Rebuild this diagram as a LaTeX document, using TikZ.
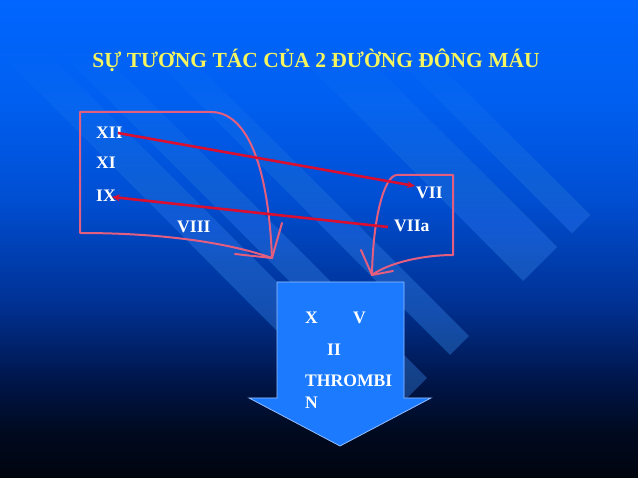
\documentclass[tikz,border=0pt]{standalone}
\usepackage{fontspec}
\setmainfont{Liberation Serif}
\usetikzlibrary{arrows.meta}
\definecolor{pinkline}{RGB}{228,94,128}
\definecolor{redline}{RGB}{218,14,48}
\definecolor{titleyellow}{RGB}{245,245,95}
\definecolor{arrowblue}{RGB}{28,122,255}
\definecolor{arrowedge}{RGB}{150,190,255}
\definecolor{stripecol}{RGB}{80,155,255}
\definecolor{bgzero}{RGB}{0,4,14}
\definecolor{bgone}{RGB}{0,10,32}
\definecolor{bgtwo}{RGB}{0,22,75}
\definecolor{bgthree}{RGB}{0,50,150}
\definecolor{bgfour}{RGB}{0,78,210}
\definecolor{bgfive}{RGB}{0,95,240}
\definecolor{bgsix}{RGB}{0,102,255}
\pgfdeclareverticalshading{slidebg}{100bp}{color(0bp)=(bgzero); color(25bp)=(bgzero); color(30bp)=(bgone); color(35.3bp)=(bgtwo); color(43.6bp)=(bgthree); color(54.1bp)=(bgfour); color(64.5bp)=(bgfive); color(75bp)=(bgsix); color(100bp)=(bgsix)}
\tikzset{
  lab/.style={text=white, font=\fontsize{17.6}{20}\selectfont\bfseries, inner sep=0pt, anchor=west},
  pinkshape/.style={draw=pinkline, line width=2, line join=round, line cap=round},
  redarrow/.style={draw=redline, line width=2.6, -{Stealth[length=8,width=7]}},
  stripeband/.style={fill=stripecol, draw=none},
  bigarrow/.style={fill=arrowblue, draw=arrowedge, line width=0.8}
}
\begin{document}
\begin{tikzpicture}[x=1pt,y=-1pt]
\useasboundingbox (0,0) rectangle (638,478);
\fill[shading=slidebg] (0,0) rectangle (638,478);
% diagonal bands (p = x - y constant along a band, all end near x + y = 805);
% stacked faint layers so that they fade out towards the top
\foreach \i in {0,...,19}{
  \begin{scope}[fill opacity=0.0221]
  \clip (0,55+\i*10) rectangle (638,478);
  \fill[stripeband] (590,215) -- (571.5,233.5) -- (164,-174) -- (182.5,-192.5) -- cycle;
  \fill[stripeband] (557,247) -- (523,281) -- (115,-127) -- (149,-161) -- cycle;
  \fill[stripeband] (469,336) -- (450,355) -- (42,-53) -- (61,-72) -- cycle;
  \fill[stripeband] (427,378) -- (406.5,398.5) -- (-1.5,-9.5) -- (19,-30) -- cycle;
  \fill[stripeband] (327,332) -- (303,357) -- (-100,-46) -- (-76,-71) -- cycle;
  \end{scope}
}
% title
\node[font=\fontsize{21.5}{24}\selectfont\bfseries, text=titleyellow, inner sep=0pt] (title) at (316,60) {SỰ TƯƠNG TÁC CỦA 2 ĐƯỜNG ĐÔNG MÁU};
% left pink callout
\draw[pinkshape] (80,112) -- (211,112) .. controls (245,112) and (268,160) .. (272,258)
  .. controls (220,240) and (150,233) .. (80,233) -- cycle;
\coordinate (tipL) at (272,258);
\coordinate (barbLa) at (235,254);
\coordinate (barbLb) at (282,223);
\draw[pinkshape] (barbLa) -- (tipL) -- (barbLb);
% right pink callout
\draw[pinkshape] (397,175) -- (453,175) -- (453,255) .. controls (425,255) and (390,262) .. (372,275)
  .. controls (373,215) and (385,175) .. (397,175) -- cycle;
\coordinate (tipR) at (372,275);
\coordinate (barbRa) at (361,250);
\coordinate (barbRb) at (393,271);
\draw[pinkshape] (barbRa) -- (tipR) -- (barbRb);
% big blue arrow
\draw[bigarrow] (277,282) -- (404,282) -- (404,398) -- (431,398) -- (340,446) -- (249,398) -- (277,398) -- cycle;
% labels
\node[lab] (xii) at (96,133) {XII};
\node[lab] (xi) at (96,163) {XI};
\node[lab] (ix) at (96,196) {IX};
\node[lab] (viii) at (177,227) {VIII};
\node[lab] (vii) at (416,193) {VII};
\node[lab] (viia) at (394,226) {VIIa};
\node[lab] (x) at (305,318) {X};
\node[lab] (v) at (353,318) {V};
\node[lab] (ii) at (327,350) {II};
\node[lab] (thr) at (305,381) {THROMBI};
\node[lab] (n) at (305,403) {N};
% red connectors
\coordinate (s1) at (118,133);
\coordinate (e1) at (415,186);
\coordinate (s2) at (388,227);
\coordinate (e2) at (112,197);
\draw[redarrow] (s1) -- (e1);
\draw[redarrow] (s2) -- (e2);
\end{tikzpicture}
\end{document}
